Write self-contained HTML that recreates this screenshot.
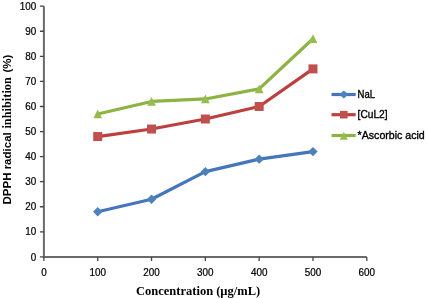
<!DOCTYPE html>
<html><head><meta charset="utf-8"><style>
html,body{margin:0;padding:0;background:#fff;width:427px;height:298px;overflow:hidden}
svg{display:block}
.t{font-family:"Liberation Sans",sans-serif;fill:#000;stroke:#000;stroke-width:0.22px}
.ti{font-family:"Liberation Serif",serif;font-weight:bold;fill:#000}
.tl{stroke-width:0.35px}
.tb{font-family:"Liberation Sans",sans-serif;font-weight:bold;fill:#000}
</style></head><body>
<svg width="427" height="298" viewBox="0 0 427 298">
<rect width="427" height="298" fill="#fff"/>
<path d="M43.90 6.20V256.90H366.80" fill="none" stroke="#6a6a6a" stroke-width="2.0"/>
<path d="M39.90 256.90H43.90M39.90 231.83H43.90M39.90 206.76H43.90M39.90 181.69H43.90M39.90 156.62H43.90M39.90 131.55H43.90M39.90 106.48H43.90M39.90 81.41H43.90M39.90 56.34H43.90M39.90 31.27H43.90M39.90 6.20H43.90M43.90 256.90V260.90M97.72 256.90V260.90M151.53 256.90V260.90M205.35 256.90V260.90M259.17 256.90V260.90M312.98 256.90V260.90M366.80 256.90V260.90" fill="none" stroke="#454545" stroke-width="1.3"/>
<text transform="translate(36.30,260.50) scale(0.990,1)" text-anchor="end" class="t" font-size="10.0">0</text>
<text transform="translate(36.30,235.43) scale(0.990,1)" text-anchor="end" class="t" font-size="10.0">10</text>
<text transform="translate(36.30,210.36) scale(0.990,1)" text-anchor="end" class="t" font-size="10.0">20</text>
<text transform="translate(36.30,185.29) scale(0.990,1)" text-anchor="end" class="t" font-size="10.0">30</text>
<text transform="translate(36.30,160.22) scale(0.990,1)" text-anchor="end" class="t" font-size="10.0">40</text>
<text transform="translate(36.30,135.15) scale(0.990,1)" text-anchor="end" class="t" font-size="10.0">50</text>
<text transform="translate(36.30,110.08) scale(0.990,1)" text-anchor="end" class="t" font-size="10.0">60</text>
<text transform="translate(36.30,85.01) scale(0.990,1)" text-anchor="end" class="t" font-size="10.0">70</text>
<text transform="translate(36.30,59.94) scale(0.990,1)" text-anchor="end" class="t" font-size="10.0">80</text>
<text transform="translate(36.30,34.87) scale(0.990,1)" text-anchor="end" class="t" font-size="10.0">90</text>
<text transform="translate(36.30,9.80) scale(0.990,1)" text-anchor="end" class="t" font-size="10.0">100</text>
<text transform="translate(43.90,275.60) scale(0.990,1)" text-anchor="middle" class="t" font-size="10.0">0</text>
<text transform="translate(97.72,275.60) scale(0.990,1)" text-anchor="middle" class="t" font-size="10.0">100</text>
<text transform="translate(151.53,275.60) scale(0.990,1)" text-anchor="middle" class="t" font-size="10.0">200</text>
<text transform="translate(205.35,275.60) scale(0.990,1)" text-anchor="middle" class="t" font-size="10.0">300</text>
<text transform="translate(259.17,275.60) scale(0.990,1)" text-anchor="middle" class="t" font-size="10.0">400</text>
<text transform="translate(312.98,275.60) scale(0.990,1)" text-anchor="middle" class="t" font-size="10.0">500</text>
<text transform="translate(366.80,275.60) scale(0.990,1)" text-anchor="middle" class="t" font-size="10.0">600</text>
<polyline points="97.72,211.77 151.53,199.24 205.35,171.66 259.17,159.13 312.98,151.61" fill="none" stroke="#4476bb" stroke-width="3.2" stroke-linejoin="round" stroke-linecap="round"/>
<polygon points="97.72,207.07 102.42,211.77 97.72,216.47 93.02,211.77" fill="#4f81bd"/>
<polygon points="151.53,194.54 156.23,199.24 151.53,203.94 146.83,199.24" fill="#4f81bd"/>
<polygon points="205.35,166.96 210.05,171.66 205.35,176.36 200.65,171.66" fill="#4f81bd"/>
<polygon points="259.17,154.43 263.87,159.13 259.17,163.83 254.47,159.13" fill="#4f81bd"/>
<polygon points="312.98,146.91 317.68,151.61 312.98,156.31 308.28,151.61" fill="#4f81bd"/>
<polyline points="97.72,136.56 151.53,129.04 205.35,119.01 259.17,106.48 312.98,68.88" fill="none" stroke="#bc403d" stroke-width="3.2" stroke-linejoin="round" stroke-linecap="round"/>
<rect x="93.22" y="132.06" width="9.00" height="9.00" fill="#c0504d"/>
<rect x="147.03" y="124.54" width="9.00" height="9.00" fill="#c0504d"/>
<rect x="200.85" y="114.51" width="9.00" height="9.00" fill="#c0504d"/>
<rect x="254.67" y="101.98" width="9.00" height="9.00" fill="#c0504d"/>
<rect x="308.48" y="64.38" width="9.00" height="9.00" fill="#c0504d"/>
<polyline points="97.72,114.00 151.53,101.47 205.35,98.96 259.17,88.93 312.98,38.79" fill="none" stroke="#8db343" stroke-width="3.2" stroke-linejoin="round" stroke-linecap="round"/>
<polygon points="97.72,109.50 102.12,118.30 93.32,118.30" fill="#96bc50"/>
<polygon points="151.53,96.97 155.93,105.77 147.13,105.77" fill="#96bc50"/>
<polygon points="205.35,94.46 209.75,103.26 200.95,103.26" fill="#96bc50"/>
<polygon points="259.17,84.43 263.57,93.23 254.77,93.23" fill="#96bc50"/>
<polygon points="312.98,34.29 317.38,43.09 308.58,43.09" fill="#96bc50"/>
<line x1="331.5" y1="94.5" x2="355.7" y2="94.5" stroke="#4476bb" stroke-width="3.2"/>
<polygon points="343.80,90.60 348.30,94.50 343.80,98.40 339.30,94.50" fill="#4f81bd"/>
<text transform="translate(357.60,98.10) scale(0.900,1)" class="t tl" font-size="10.6">NaL</text>
<line x1="331.5" y1="114.7" x2="355.7" y2="114.7" stroke="#bc403d" stroke-width="3.2"/>
<rect x="340.00" y="110.90" width="7.60" height="7.60" fill="#c0504d"/>
<text transform="translate(357.60,118.30) scale(0.960,1)" class="t tl" font-size="10.6">[CuL2]</text>
<line x1="331.5" y1="135.5" x2="355.7" y2="135.5" stroke="#8db343" stroke-width="3.2"/>
<polygon points="343.80,131.80 347.85,139.70 339.75,139.70" fill="#96bc50"/>
<text transform="translate(357.60,139.10)" class="t tl" font-size="10.6">*Ascorbic acid</text>
<text transform="translate(198.10,294.60)" text-anchor="middle" class="ti" font-size="12.5">Concentration (µg/mL)</text>
<text transform="translate(11.30,204.50) rotate(-90)" class="tb" font-size="11.5">DPPH radical</text>
<text transform="translate(11.30,128.60) rotate(-90)" class="ti" font-size="12.35">inhibition</text>
<text transform="translate(11.30,72.50) rotate(-90)" class="tb" font-size="11.5">(%)</text>
</svg>
</body></html>
